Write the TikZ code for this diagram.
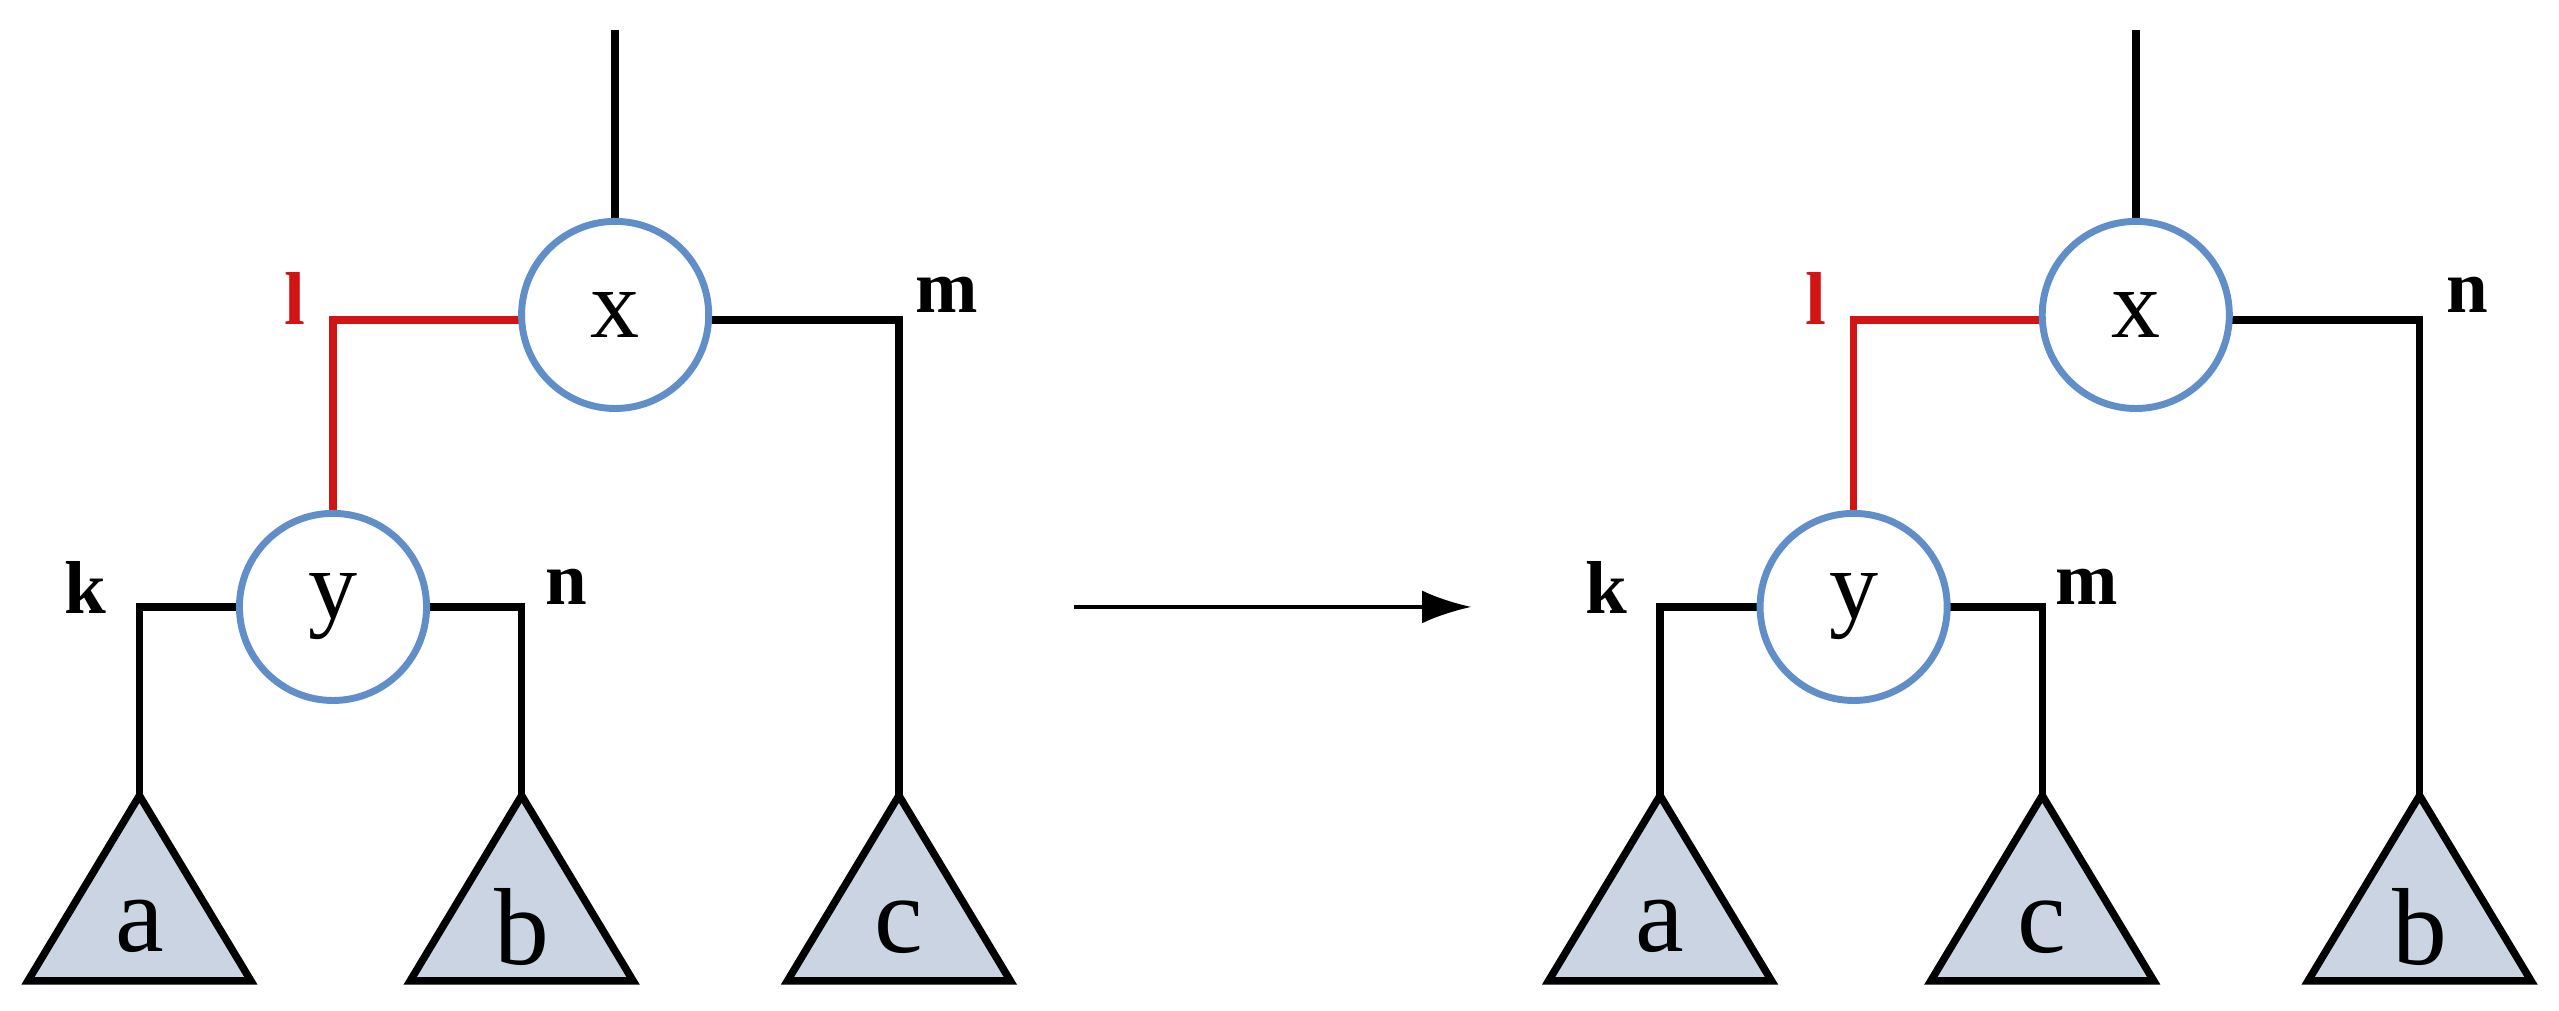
\documentclass[tikz,border=0pt]{standalone}
\usepackage{fontspec}
\setmainfont{Liberation Serif}
\usetikzlibrary{arrows.meta}
\definecolor{cblue}{RGB}{96,142,200}
\definecolor{tfill}{RGB}{203,212,226}
\definecolor{lred}{RGB}{210,20,20}
\tikzset{
  circ/.style={circle,draw=cblue,line width=1.2pt,fill=white,minimum size=1.14cm,inner sep=0pt,font=\fontsize{17}{17}\selectfont},
  edge/.style={line width=1.3pt,black},
  redge/.style={line width=1.3pt,lred},
  tri/.style={draw=black,line width=1.3pt,fill=tfill,line join=miter},
  lab/.style={font=\bfseries\fontsize{13}{13}\selectfont},
  tl/.style={font=\fontsize{19}{19}\selectfont}
}
\begin{document}
\begin{tikzpicture}[x=0.01cm,y=-0.01cm]
\useasboundingbox (0,0) rectangle (1560,616);
\foreach \o/\lk/\ln/\lm/\ta/\tb/\tc/\id in {0/k/n/m/a/b/c/L,927/k/m/n/a/c/b/R}{
  \begin{scope}[xshift=\o*0.01cm]
  \coordinate (top\id) at (375,18);
  \coordinate (lc\id) at (203,195);
  \coordinate (kc\id) at (85,370);
  \coordinate (nc\id) at (318,370);
  \coordinate (mc\id) at (548,195);
  \draw[edge] (top\id) -- (375,140);
  \draw[redge] (318,195) -- (lc\id) -- (203,320);
  \draw[edge] (432,195) -- (mc\id) -- (548,490);
  \draw[edge] (150,370) -- (kc\id) -- (85,490);
  \draw[edge] (255,370) -- (nc\id) -- (318,490);
  \node[circ] (x\id) at (375,192) {x};
  \node[circ] (y\id) at (203,370) {y};
  \foreach \cx/\t/\n in {85/\ta/1,318/\tb/2,548/\tc/3}{
    \draw[tri] (\cx,485) -- (\cx+68,598) -- (\cx-68,598) -- cycle;
    \node[tl] (t\id\n) at (\cx,565) {\t};
  }
  \node[lab,text=lred] (l\id) at (180,182) {l};
  \node[lab] (k\id) at (52,358) {\lk};
  \node[lab] (n\id) at (345,358) {\ln};
  \node[lab] (m\id) at (577,180) {\lm};
  \end{scope}
}
\coordinate (a1) at (655,370);
\coordinate (a2) at (897,370);
\draw[line width=0.6pt,-{Latex[length=0.3cm,width=0.2cm]}] (a1) -- (a2);
\end{tikzpicture}
\end{document}
